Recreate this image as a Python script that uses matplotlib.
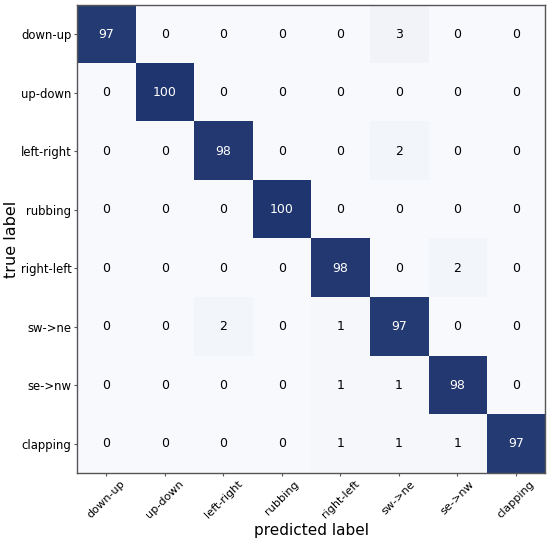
import numpy as np
import matplotlib
matplotlib.use("Agg")
import matplotlib.pyplot as plt
from matplotlib.colors import LinearSegmentedColormap

labels = ["down-up", "up-down", "left-right", "rubbing", "right-left", "sw->ne", "se->nw", "clapping"]
row_down_up    = [97, 0, 0, 0, 0, 3, 0, 0]
row_up_down    = [0, 100, 0, 0, 0, 0, 0, 0]
row_left_right = [0, 0, 98, 0, 0, 2, 0, 0]
row_rubbing    = [0, 0, 0, 100, 0, 0, 0, 0]
row_right_left = [0, 0, 0, 0, 98, 0, 2, 0]
row_sw_ne      = [0, 0, 2, 0, 1, 97, 0, 0]
row_se_nw      = [0, 0, 0, 0, 1, 1, 98, 0]
row_clapping   = [0, 0, 0, 0, 1, 1, 1, 97]

cm = np.array([row_down_up, row_up_down, row_left_right, row_rubbing,
               row_right_left, row_sw_ne, row_se_nw, row_clapping])

cmap = LinearSegmentedColormap.from_list("navy", ["#f7f9fc", "#1f356f"])

fig = plt.figure(figsize=(5.5, 5.44), dpi=100)
ax = fig.add_axes([0.14, 0.1305, 0.851, 0.8605])
ax.imshow(cm, cmap=cmap, vmin=0, vmax=100, aspect="auto", interpolation="nearest")

n = len(labels)
for i in range(n):
    for j in range(n):
        v = cm[i, j]
        ax.text(j, i, str(v), ha="center", va="center", fontsize=9,
                color="white" if v > 50 else "black")

ax.set_xticks(range(n))
ax.set_yticks(range(n))
ax.set_xticklabels(labels, rotation=45, ha="center", fontsize=8.1)
ax.set_yticklabels(labels, fontsize=8.4)
ax.tick_params(length=2.3, pad=1.8, color="#555555")
ax.set_xlabel("predicted label", fontsize=11)
ax.set_ylabel("true label", fontsize=11.5)
ax.yaxis.set_label_coords(-0.124, 0.5)
ax.xaxis.set_label_coords(0.5, -0.106)
for s in ax.spines.values():
    s.set_color("#555555")
    s.set_linewidth(1.0)

fig.savefig("out.png", dpi=100)
